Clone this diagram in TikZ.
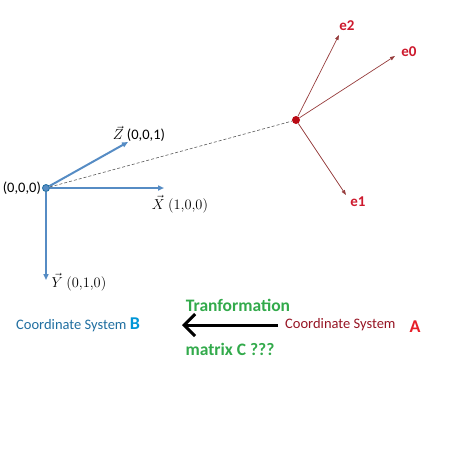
\documentclass[tikz,border=0pt]{standalone}
\usepackage{fontspec}
\setmainfont{Carlito}
\usepackage{tikz}
\usetikzlibrary{arrows.meta}
\definecolor{axisblue}{RGB}{86,140,196}
\definecolor{sysblue}{RGB}{31,110,160}
\definecolor{letterblue}{RGB}{0,150,215}
\definecolor{vecred}{RGB}{150,60,60}
\definecolor{ptred}{RGB}{185,10,20}
\definecolor{labred}{RGB}{205,25,45}
\definecolor{sysred}{RGB}{150,20,35}
\definecolor{letterred}{RGB}{230,30,40}
\definecolor{trgreen}{RGB}{50,170,75}

\begin{document}
\begin{tikzpicture}[x=1pt, y=-1pt,
  every node/.style={font=\fontsize{14.5}{17}\selectfont, inner sep=0pt},
  axisB/.style={draw=axisblue, line width=2pt, -{Triangle[length=6pt,width=5pt]}},
  vecA/.style={draw=vecred, line width=0.7pt, -{Triangle[length=5pt,width=3.5pt]}},
  elab/.style={text=labred, font=\fontsize{15}{17}\selectfont\bfseries},
  green/.style={text=trgreen, font=\fontsize{17.5}{20}\selectfont\bfseries},
  big/.style={font=\fontsize{18}{20}\selectfont\bfseries}
]
\useasboundingbox (0,0) rectangle (474,451);

% frame B
\node[circle, draw=sysblue, fill=axisblue, line width=0.8pt, minimum size=7pt] (ob) at (46,188) {};
\coordinate (zX) at (164,188);
\coordinate (zY) at (46,280);
\coordinate (zZ) at (128,142);
\draw[axisB] (ob) -- (zX);
\draw[axisB] (ob) -- (zY);
\draw[axisB] (ob) -- (zZ);
\node[anchor=east] (o0) at ([xshift=-1pt]ob.west) {(0,0,0)};
\node (lX) at (180,204) {$\vec{X}\ (1{,}0{,}0)$};
\node (lY) at (79,282) {$\vec{Y}\ (0{,}1{,}0)$};
\node (lZ) at (139,134) {$\vec{Z}$ (0,0,1)};

% frame A
\node[circle, fill=ptred, minimum size=8pt] (pa) at (296,120) {};
\draw[densely dashed, gray!70!black, line width=0.6pt] (ob) -- (pa);
\foreach \e/\tip/\lpos in {e0/{395,56}/{409,52}, e1/{346,195}/{358,202}, e2/{339,35}/{347,26}} {
  \coordinate (t\e) at (\tip);
  \draw[vecA] (pa) -- (t\e);
  \node[elab] (l\e) at (\lpos) {\e};
}

% transformation
\node[anchor=west, text=sysblue] (sysB) at (16,325) {Coordinate System \textcolor{letterblue}{\bfseries\fontsize{18}{20}\selectfont B}};
\node[anchor=west, text=sysred] (sysA) at (285,325) {Coordinate System};
\node[big, text=letterred] (letA) at (415,327) {A};
\coordinate (arrS) at (278,325);
\coordinate (arrE) at (182,325);
\draw[line width=3pt, -{Straight Barb[length=11pt,width=22pt,line width=3pt]}] (arrS) -- (arrE);
\node[green] (tr1) at (238,305) {Tranformation};
\node[green] (tr2) at (230,349) {matrix C ???};
\end{tikzpicture}
\end{document}
